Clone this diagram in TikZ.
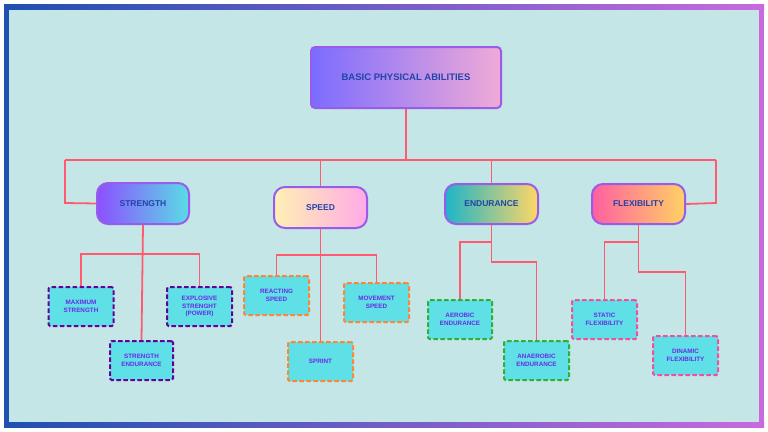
\documentclass[tikz,border=0pt]{standalone}
\usepackage{fontspec}
\setmainfont{Liberation Sans}
\begin{document}
\begin{tikzpicture}[x=1pt,y=-1pt,
  mainbox/.style={rounded corners=11pt,line width=2pt,draw=#1,font=\bfseries\fontsize{8.5}{10}\selectfont,text=titletext,align=center,inner sep=0pt},
  leaf/.style={draw=#1,dashed,dash pattern=on 4.5pt off 2.5pt,line width=2pt,fill=leaffill,rounded corners=1.5pt,font=\bfseries\fontsize{6.3}{7.6}\selectfont,text=leaftext,align=center,inner sep=0pt,minimum width=65pt,minimum height=39pt},
  link/.style={draw=linkc,line width=1.8pt}]
\definecolor{bg}{HTML}{C4E6E6}
\definecolor{leaffill}{HTML}{5EE0E6}
\definecolor{linkc}{HTML}{FF5A6E}
\definecolor{titletext}{HTML}{2344A8}
\definecolor{leaftext}{HTML}{6A2AE8}
\definecolor{frameb}{HTML}{1E50B0}
\definecolor{framep}{HTML}{C86ADE}
\definecolor{boxb}{HTML}{9A5CE8}
\definecolor{tA}{HTML}{7B6CFF}\definecolor{tB}{HTML}{FF64AA}\definecolor{tC}{HTML}{F0AAD7}
\definecolor{sA}{HTML}{8C50FF}\definecolor{sB}{HTML}{5ADCE6}
\definecolor{pA}{HTML}{FFF0B4}\definecolor{pB}{HTML}{FFAAE6}
\definecolor{eA}{HTML}{1EB4C8}\definecolor{eB}{HTML}{FFD764}
\definecolor{fA}{HTML}{FF5FA0}\definecolor{fB}{HTML}{FFD264}
\useasboundingbox (0,0) rectangle (768,431);
\fill[white] (0,0) rectangle (768,431);
\fill[bg] (7,7) rectangle (761,424);
\shade[left color=frameb,right color=framep] (4,4) rectangle (764,9);
\shade[left color=frameb,right color=framep] (4,422) rectangle (764,427);
\fill[frameb] (4,4) rectangle (9,427);
\fill[framep] (759,4) rectangle (764,427);
% title
\node[mainbox=boxb,rounded corners=4pt,minimum width=190pt,minimum height=61pt,
  left color=tA,middle color=tB,right color=tC,font=\bfseries\fontsize{9.5}{11}\selectfont] (title) at (406,77.5) {BASIC PHYSICAL ABILITIES};
\node[mainbox=boxb,minimum width=92pt,minimum height=41pt,left color=sA,right color=sB] (str) at (143,203.5) {STRENGTH};
\node[mainbox=boxb,minimum width=93pt,minimum height=41pt,left color=pA,right color=pB] (spd) at (320.5,207.5) {SPEED};
\node[mainbox=boxb,minimum width=93pt,minimum height=40pt,left color=eA,right color=eB] (end) at (491.5,204) {ENDURANCE};
\node[mainbox=boxb,minimum width=93pt,minimum height=40pt,left color=fA,right color=fB] (flx) at (638.5,204) {FLEXIBILITY};
% leaves
\node[leaf=violet!80!blue] (ms) at (81,306.5) {MAXIMUM\\STRENGTH};
\node[leaf=violet!80!blue] (ex) at (199.5,306.5) {EXPLOSIVE\\STRENGHT\\(POWER)};
\node[leaf=violet!80!blue,minimum width=63pt] (se) at (141.5,360.5) {STRENGTH\\ENDURANCE};
\node[leaf=orange!80!red!80!white] (rs) at (276.5,295.5) {REACTING\\SPEED};
\node[leaf=orange!80!red!80!white] (mv) at (376.5,302.5) {MOVEMENT\\SPEED};
\node[leaf=orange!80!red!80!white] (sp) at (320.5,361.5) {SPRINT};
\node[leaf=green!60!black!80!white,minimum width=64pt] (ae) at (460,319.5) {AEROBIC\\ENDURANCE};
\node[leaf=green!60!black!80!white] (an) at (536.5,360.5) {ANAEROBIC\\ENDURANCE};
\node[leaf=magenta!60!pink] (st) at (604.5,319.5) {STATIC\\FLEXIBILITY};
\node[leaf=magenta!60!pink] (dn) at (685.5,355.5) {DINAMIC\\FLEXIBILITY};
% connectors
\coordinate (h) at (406,160);
\draw[link] (title.south) -- (h);
\draw[link] (65,160) -- (716,160);
\draw[link] (65,160) -- (65,203) -- (str.west);
\draw[link] (716,160) -- (716,203) -- (flx.east);
\draw[link] (320.5,160) -- (spd.north);
\draw[link] (491.5,160) -- (end.north);
\draw[link] (str.south) -- (se.north);
\draw[link] (ms.north) |- (142,254) -| (ex.north);
\draw[link] (spd.south) -- (sp.north);
\draw[link] (rs.north) |- (320.5,255) -| (mv.north);
\draw[link] (end.south) -- (491.5,242) -| (ae.north);
\draw[link] (491.5,242) |- (536.5,262) -- (an.north);
\draw[link] (flx.south) -- (638.5,242) -| (st.north);
\draw[link] (638.5,242) |- (685.5,272) -- (dn.north);
\end{tikzpicture}
\end{document}
